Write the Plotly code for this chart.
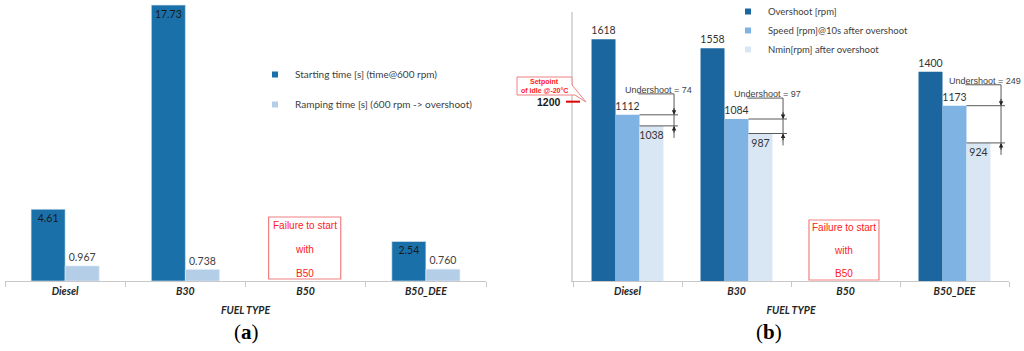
import plotly.graph_objects as go

# ---------------- data ----------------
fuels = ["Diesel", "B30", "B50", "B50_DEE"]
starting_time = [4.61, 17.73, None, 2.54]      # [s] (time@600 rpm)
ramping_time = [0.967, 0.738, None, 0.760]     # [s] (600 rpm -> overshoot)
overshoot = [1618, 1558, None, 1400]           # [rpm]
speed_10s = [1112, 1084, None, 1173]           # [rpm] @10s after overshoot
nmin = [1038, 987, None, 924]                  # [rpm] after overshoot
setpoint_idle = 1200                           # rpm, idle setpoint @-20°C
failed_fuel = "B50"

names_a = ["Starting time [s] (time@600 rpm)", "Ramping time [s] (600 rpm -> overshoot)"]
names_b = ["Overshoot [rpm]", "Speed [rpm]@10s after overshoot", "Nmin[rpm] after overshoot"]

# ---------------- style ----------------
W, H = 1024, 351
def px(p):
    return p / W
def py(p):
    return 1 - p / H

C_A = ["#1a71a9", "#b4cee8"]
C_B = ["#1b669f", "#7fb3e3", "#d9e6f3"]
RED = "#ff2020"
BOXRED = "#f08080"
GREY = "#404040"

fig = go.Figure()

# ---- panel (a) ----
wa = 0.283
for vals, name, col, off, tmpl, pos, grp in [
    (starting_time, names_a[0], C_A[0], -wa, "%{y:.2f}", "inside", "a1"),
    (ramping_time, names_a[1], C_A[1], 0.0, "%{y:.3f}", "outside", "a2"),
]:
    fig.add_trace(go.Bar(
        x=fuels, y=vals, xaxis="x", yaxis="y", width=wa, offset=off,
        marker=dict(color=col, line=dict(color="#dfe9f4", width=0.6)),
        texttemplate=tmpl, textposition=pos, insidetextanchor="end", textangle=0,
        textfont=dict(family="Lato", size=10.5, color="#1a1a1a" if pos == "inside" else "#404040"),
        constraintext="none", cliponaxis=False, showlegend=False, name=name))
    fig.add_trace(go.Scatter(
        x=[None], y=[None], xaxis="x", yaxis="y", mode="markers", name=name,
        marker=dict(symbol="square", size=6, color=col), legend="legend", legendgroup=grp))

# ---- panel (b) ----
wb = 0.22
for vals, name, col, off, pos in [
    (overshoot, names_b[0], C_B[0], -1.5 * wb, "outside"),
    (speed_10s, names_b[1], C_B[1], -0.5 * wb, "outside"),
    (nmin, names_b[2], C_B[2], 0.5 * wb, "inside"),
]:
    fig.add_trace(go.Bar(
        x=fuels, y=vals, xaxis="x2", yaxis="y2", width=wb, offset=off,
        marker=dict(color=col, line=dict(width=0)),
        texttemplate="%{y:.0f}", textposition=pos, insidetextanchor="end", textangle=0,
        textfont=dict(family="Lato", size=10.5, color="#333333"),
        constraintext="none", cliponaxis=False, showlegend=False, name=name))
    fig.add_trace(go.Scatter(
        x=[None], y=[None], xaxis="x2", yaxis="y2", mode="markers", name=name,
        marker=dict(symbol="square", size=6, color=col), legend="legend2"))

shapes = []
annotations = []

# failure boxes
fi = fuels.index(failed_fuel)
ya_per_px = 17.8 / 277.0
yb_per_px = 1800 / 269.0
for xr, yr, upp, x0, x1, top_px, bot_px, lines_px in [
    ("x", "y", ya_per_px, -0.308, 0.292, 64, 2, [56, 32, 8]),
    ("x2", "y2", yb_per_px, -0.335, 0.307, 61, 1, [54, 31, 8]),
]:
    shapes.append(dict(type="rect", xref=xr, yref=yr, x0=fi + x0, x1=fi + x1,
                       y0=bot_px * upp, y1=top_px * upp,
                       line=dict(color=BOXRED, width=1.2), fillcolor="white", layer="above"))
    for txt, lp in zip(["Failure to start", "with", failed_fuel], lines_px):
        annotations.append(dict(xref=xr, yref=yr, x=fi + (x0 + x1) / 2, y=lp * upp,
                                xanchor="center", yanchor="middle",
                                text=txt, showarrow=False,
                                font=dict(family="Liberation Sans Narrow, Liberation Sans", size=10, color=RED)))

# undershoot brackets
for i, (sp, nm) in enumerate(zip(speed_10s, nmin)):
    if sp is None or nm is None:
        continue
    vx = i + 0.427
    top = sp + 140
    bot = nm - 80
    lc = dict(color="#595959", width=1)
    shapes.append(dict(type="line", xref="x2", yref="y2", x0=i + 0.5 * wb, x1=i + 0.463, y0=sp, y1=sp, line=lc))
    shapes.append(dict(type="line", xref="x2", yref="y2", x0=i + 0.5 * wb, x1=i + 0.463, y0=nm, y1=nm, line=lc))
    shapes.append(dict(type="line", xref="x2", yref="y2", x0=vx, x1=vx, y0=bot, y1=top, line=lc))
    shapes.append(dict(type="line", xref="x2", yref="y2", x0=i + 0.10, x1=vx, y0=top, y1=top, line=lc))
    annotations.append(dict(xref="x2", yref="y2", x=i + 0.28, y=sp + 167,
                            xanchor="center", yanchor="middle",
                            text=f"Undershoot = {sp - nm}", showarrow=False,
                            font=dict(family="Liberation Sans", size=9, color=GREY)))
    annotations.append(dict(xref="x2", yref="y2", x=vx, y=sp, ax=vx, ay=sp + 55,
                            axref="x2", ayref="y2", text="", showarrow=True,
                            arrowhead=2, arrowsize=0.9, arrowwidth=1, arrowcolor="#262626"))
    annotations.append(dict(xref="x2", yref="y2", x=vx, y=nm, ax=vx, ay=nm - 55,
                            axref="x2", ayref="y2", text="", showarrow=True,
                            arrowhead=2, arrowsize=0.9, arrowwidth=1, arrowcolor="#262626"))

# setpoint callout
path = "M {a},{b} L {c},{b} L {c},{d} L {e},{f} L {g},{h} L {c},{h} L {a},{h} Z".format(
    a=px(517), b=py(77), c=px(572), d=py(85), e=px(586), f=py(102), g=px(575), h=py(95))
shapes.append(dict(type="path", xref="paper", yref="paper", path=path,
                   line=dict(color=BOXRED, width=1), fillcolor="white"))
for txt, ty in [("Setpoint", 82), ("of idle @-20°C", 90.5)]:
    annotations.append(dict(xref="paper", yref="paper", x=px(544.5), y=py(ty),
                            xanchor="center", yanchor="middle",
                            text=txt, showarrow=False,
                            font=dict(family="Liberation Sans Narrow, Liberation Sans", size=7,
                                      color=RED, weight="bold")))
shapes.append(dict(type="line", xref="paper", yref="y2", x0=px(566), x1=px(580),
                   y0=setpoint_idle, y1=setpoint_idle, line=dict(color="#e00000", width=2)))
annotations.append(dict(xref="paper", yref="y2", x=px(563), y=setpoint_idle,
                        xanchor="right", yanchor="middle",
                        text=f"<b>{setpoint_idle}</b>", showarrow=False,
                        font=dict(family="Liberation Sans", size=10.5, color="#1a1a1a")))

# panel letters
for lx, letter in [(246, "a"), (769, "b")]:
    annotations.append(dict(xref="paper", yref="paper", x=px(lx), y=py(332),
                            xanchor="center", yanchor="middle",
                            text=f"(<b>{letter}</b>)", showarrow=False,
                            font=dict(family="Liberation Serif", size=21, color="#000000")))

tickfont = dict(family="Lato", size=10.5, color="#262626", weight="bold", style="italic")
xcommon = dict(type="category", range=[-0.5, 3.5], showline=True, linecolor="#c8c8c8", linewidth=1.2,
               ticks="outside", tickson="boundaries", ticklen=5, tickcolor="#c8c8c8",
               tickfont=tickfont, showgrid=False, zeroline=False, fixedrange=True,
               automargin=False,
               title=dict(text="FUEL TYPE", font=tickfont, standoff=10))

fig.update_layout(
    width=W, height=H, margin=dict(l=0, r=0, t=0, b=0, autoexpand=False),
    paper_bgcolor="white", plot_bgcolor="white",
    barmode="overlay",
    xaxis=dict(domain=[px(5), px(486)], anchor="y", **xcommon),
    yaxis=dict(domain=[py(281), py(4)], range=[0, 17.8], anchor="x", visible=False, fixedrange=True),
    xaxis2=dict(domain=[px(573), px(1009)], anchor="y2", **xcommon),
    yaxis2=dict(domain=[py(281), py(12)], range=[0, 1800], anchor="x2", showline=True,
                linecolor="#d9d9d9", linewidth=1.5, showticklabels=False, ticks="",
                showgrid=False, zeroline=False, fixedrange=True),
    legend=dict(x=px(255), y=py(60), xanchor="left", yanchor="top", bgcolor="rgba(0,0,0,0)",
                font=dict(family="Lato", size=10, color="#404040"), tracegroupgap=11,
                traceorder="grouped"),
    legend2=dict(x=px(728), y=py(-3), xanchor="left", yanchor="top", bgcolor="rgba(0,0,0,0)",
                 font=dict(family="Lato", size=9.5, color="#404040"), traceorder="normal"),
    shapes=shapes, annotations=annotations,
)

fig.write_html("out.html", config={"displayModeBar": False},
               post_script="document.body.style.margin='0';")
